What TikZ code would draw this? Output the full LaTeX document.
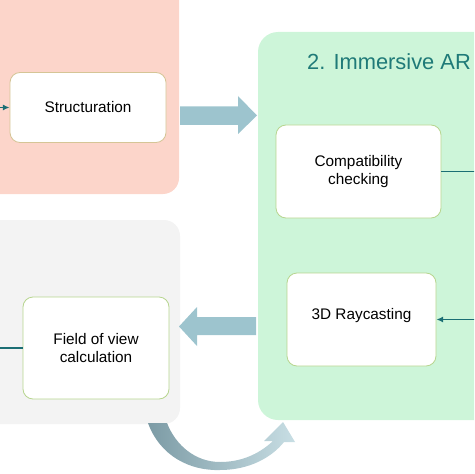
\documentclass[tikz,border=0pt]{standalone}
\usepackage{fontspec}
\setmainfont{Liberation Sans}
\usetikzlibrary{arrows.meta}

\definecolor{panelpink}{HTML}{FCD5CA}
\definecolor{panelgreen}{HTML}{CDF5D9}
\definecolor{panelgray}{HTML}{F3F3F3}
\definecolor{borderTan}{HTML}{D5C596}
\definecolor{borderGreen}{HTML}{B7D58F}
\definecolor{linkteal}{HTML}{1B6E74}
\definecolor{blockblue}{HTML}{9DC4CE}
\definecolor{titleteal}{HTML}{1F7A78}
\definecolor{curveDark}{HTML}{7C9BA5}
\definecolor{curveLight}{HTML}{C8DEE4}

\tikzset{
  procbox/.style={draw=borderGreen, fill=white, rounded corners=7.5pt, line width=0.6pt,
    align=center, font=\fontsize{11.5}{13.5}\selectfont, inner sep=0pt},
  link/.style={draw=linkteal, line width=1pt},
  linkarrow/.style={link, -{Latex[length=5pt,width=4.5pt]}}
}

\begin{document}
\begin{tikzpicture}[x=0.75pt,y=0.75pt,yscale=-1,xscale=1]
\useasboundingbox (0,0) rectangle (474,474);
\clip (0,0) rectangle (474,474);

%Shape: Rounded Rectangle [pink panel]
\fill[panelpink, rounded corners=12pt] (-30,-30) rectangle (179,194);
%Shape: Rounded Rectangle [gray panel]
\fill[panelgray, rounded corners=12pt] (-30,220) rectangle (180,424);
%Shape: Rounded Rectangle [green panel]
\fill[panelgreen, rounded corners=15pt] (258,32) rectangle (510,420);

% Text Node
\node[text=titleteal, font=\fontsize{16.4}{19}\selectfont] (title) at (389,62) {2. Immersive AR};

%Shape: Boxes
\node[procbox, draw=borderTan, minimum width=117pt, minimum height=52.5pt] (struct) at (88,107.5) {Structuration};
\node[procbox, minimum width=123.75pt, minimum height=69.75pt] (compat) at (358.5,171.5) {Compatibility\\checking};
\node[procbox, minimum width=111.75pt, minimum height=69.75pt] (raycast) at (361.5,319.5) {\raisebox{9pt}{3D Raycasting}};
\node[procbox, minimum width=109.5pt, minimum height=76.5pt] (fov) at (96,348) {Field of view\\calculation};

%Straight Lines [teal links]
\coordinate (leftEdge) at (-5,0);
\coordinate (rightEdge) at (480,0);
\draw[linkarrow] (struct.west -| leftEdge) -- (struct.west);
\draw[link] (compat.east) -- (compat.east -| rightEdge);
\draw[linkarrow] (raycast.east -| rightEdge) -- (raycast.east);
\draw[link] (fov.west) -- (fov.west -| leftEdge);

%Shape: Block Arrow [right]
\fill[blockblue] (180,106.5) -- (238,106.5) -- (238,96) -- (257,115.5) -- (238,134) -- (238,125) -- (180,125) -- cycle ;
%Shape: Block Arrow [left]
\fill[blockblue] (256,317) -- (197,317) -- (197,307) -- (179,326.5) -- (197,346) -- (197,335) -- (256,335) -- cycle ;

%Shape: Curved Arrow [bottom]
\shade[left color=curveDark, right color=curveLight]
  (148,423) .. controls (160,456) and (190,471) .. (220,470)
  .. controls (250,470) and (272,457) .. (284,442)
  -- (295,442) -- (283,422) -- (264,441) -- (273,441)
  .. controls (258,455) and (240,462) .. (220,462)
  .. controls (196,462) and (176,446) .. (167,423) -- cycle ;

\end{tikzpicture}
\end{document}
